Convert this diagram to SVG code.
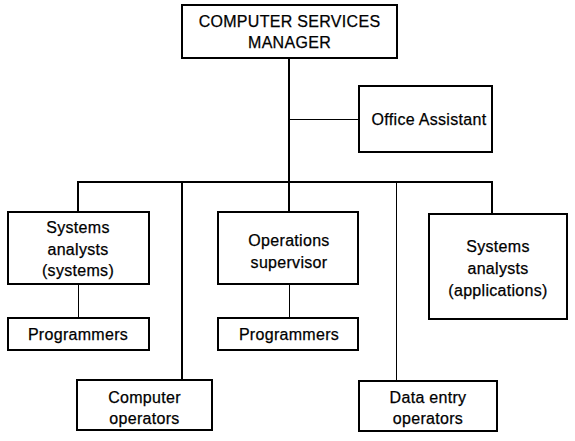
<svg xmlns="http://www.w3.org/2000/svg" width="575" height="441" viewBox="0 0 575 441">
<style>
.box{fill:#fff;stroke:#000;stroke-width:2;shape-rendering:crispEdges}
.t{font-family:"Liberation Sans",Arial,sans-serif;font-size:16px;fill:#000;stroke:#000;stroke-width:0.25;letter-spacing:0.3px;text-anchor:middle}
.c{stroke:#000;stroke-width:2;fill:none;shape-rendering:crispEdges}
.thin{stroke:#000;stroke-width:1;fill:none;shape-rendering:crispEdges}
</style>
<rect width="575" height="441" fill="#fff"/>
<g id="connectors">
<line class="c" x1="289" y1="58" x2="289" y2="212"/>
<line class="thin" x1="289" y1="119.5" x2="359" y2="119.5"/>
<line class="c" x1="77" y1="182" x2="493" y2="182"/>
<line class="c" x1="78" y1="182" x2="78" y2="212"/>
<line class="c" x1="182" y1="182" x2="182" y2="380"/>
<line class="thin" x1="396.5" y1="182" x2="396.5" y2="381"/>
<line class="c" x1="492" y1="182" x2="492" y2="214"/>
<line class="thin" x1="78.5" y1="284" x2="78.5" y2="318"/>
<line class="thin" x1="289.5" y1="284" x2="289.5" y2="318"/>
</g>
<g id="manager">
<rect class="box" x="182" y="5" width="215" height="53"/>
<text class="t" x="289.5" y="27">COMPUTER SERVICES</text>
<text class="t" x="289.5" y="48">MANAGER</text>
</g>
<g id="office-assistant">
<rect class="box" x="359" y="86" width="133" height="66"/>
<text class="t" x="429" y="125">Office Assistant</text>
</g>
<g id="systems-analysts-systems">
<rect class="box" x="8" y="212" width="141" height="72"/>
<text class="t" x="78" y="233">Systems</text>
<text class="t" x="78" y="255">analysts</text>
<text class="t" x="78" y="276">(systems)</text>
</g>
<g id="programmers-1">
<rect class="box" x="8" y="318" width="141" height="32"/>
<text class="t" x="78" y="340">Programmers</text>
</g>
<g id="operations-supervisor">
<rect class="box" x="218" y="212" width="140" height="72"/>
<text class="t" x="289" y="246">Operations</text>
<text class="t" x="289" y="268">supervisor</text>
</g>
<g id="programmers-2">
<rect class="box" x="218" y="318" width="140" height="32"/>
<text class="t" x="289" y="340">Programmers</text>
</g>
<g id="systems-analysts-applications">
<rect class="box" x="429" y="214" width="138" height="105"/>
<text class="t" x="498" y="252">Systems</text>
<text class="t" x="498" y="274">analysts</text>
<text class="t" x="498" y="296">(applications)</text>
</g>
<g id="computer-operators">
<rect class="box" x="77" y="380" width="135" height="50"/>
<text class="t" x="144.5" y="403">Computer</text>
<text class="t" x="144.5" y="424">operators</text>
</g>
<g id="data-entry-operators">
<rect class="box" x="359" y="381" width="138" height="50"/>
<text class="t" x="428" y="403">Data entry</text>
<text class="t" x="428" y="424">operators</text>
</g>
</svg>
